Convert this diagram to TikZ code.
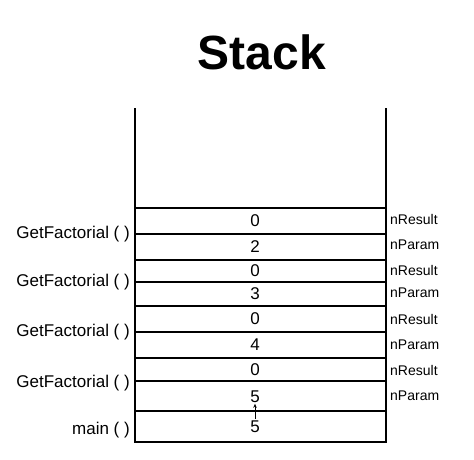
\documentclass[tikz,border=0pt]{standalone}
\usepackage{fontspec}
\setmainfont{Liberation Sans}
\usepackage{tikz}
\usetikzlibrary{arrows.meta,positioning}

\begin{document}
\begin{tikzpicture}[
  x=1pt, y=-1pt,
  node distance=4pt and 4pt,
  cell/.style={draw, line width=1.3pt, minimum width=251pt, inner sep=0pt,
    outer sep=0pt},
  num/.style={inner sep=0pt, font=\fontsize{17}{19}\selectfont},
  varname/.style={inner sep=0pt, font=\fontsize{14}{16}\selectfont},
  frame/.style={inner sep=0pt, anchor=east, font=\fontsize{17}{19}\selectfont},
  wall/.style={line width=1.3pt},
  push/.style={-{Stealth[length=4pt,width=3.5pt]}, line width=0.8pt}
]
\useasboundingbox (0,0) rectangle (474,459);
\node[font=\bfseries\fontsize{48}{54}\selectfont] (title) at (262,52) {Stack};
% stack cells, top to bottom
\node[cell, minimum height=26pt] (r1) at (260.5,221) {};
\node[cell, minimum height=26pt] (r2) at (260.5,247) {};
\node[cell, minimum height=22pt] (r3) at (260.5,271) {};
\node[cell, minimum height=24pt] (r4) at (260.5,294) {};
\node[cell, minimum height=26pt] (r5) at (260.5,319) {};
\node[cell, minimum height=26pt] (r6) at (260.5,345) {};
\node[cell, minimum height=23pt] (r7) at (260.5,369.5) {};
\node[cell, minimum height=30pt] (r8) at (260.5,396) {};
\node[cell, minimum height=31pt] (r9) at (260.5,426.5) {};
% values
\node[num, xshift=-5.5pt] (n1) at (r1) {0};
\node[num, xshift=-5.5pt] (n2) at (r2) {2};
\node[num, xshift=-5.5pt] (n3) at (r3) {0};
\node[num, xshift=-5.5pt] (n4) at (r4) {3};
\node[num, xshift=-5.5pt] (n5) at (r5) {0};
\node[num, xshift=-5.5pt] (n6) at (r6) {4};
\node[num, xshift=-5.5pt] (n7) at (r7) {0};
\node[num, xshift=-5.5pt, yshift=-1pt] (n8) at (r8) {5};
\node[num, xshift=-5.5pt] (n9) at (r9) {5};
% walls
\coordinate (lefttop) at (135,108);
\coordinate (righttop) at (386,108);
\draw[wall] (lefttop) -- (r9.south west);
\draw[wall] (righttop) -- (r9.south east);
% variable names
\node[varname, right=of r1.east, yshift=2pt] (v1) {nResult};
\node[varname, right=of r2.east, yshift=2pt] (v2) {nParam};
\node[varname, right=of r3.east, yshift=1pt] (v3) {nResult};
\node[varname, right=of r4.east, yshift=1pt] (v4) {nParam};
\node[varname, right=of r5.east] (v5) {nResult};
\node[varname, right=of r6.east] (v6) {nParam};
\node[varname, right=of r7.east, yshift=-1pt] (v7) {nResult};
\node[varname, right=of r8.east] (v8) {nParam};
% frames
\node[frame, left=5pt of r1.south west] (f1) {GetFactorial ( )};
\node[frame, left=5pt of r3.south west] (f2) {GetFactorial ( )};
\node[frame, left=5pt of r5.south west] (f3) {GetFactorial ( )};
\node[frame, left=5pt of r7.south west, yshift=-2pt] (f4) {GetFactorial ( )};
\node[frame, left=5pt of r9.west, yshift=-4pt] (f5) {main ( )};
% argument copy
\draw[push] ([yshift=7.5pt]n9.center) -- ([yshift=-6.8pt]n8.center);
\end{tikzpicture}
\end{document}
